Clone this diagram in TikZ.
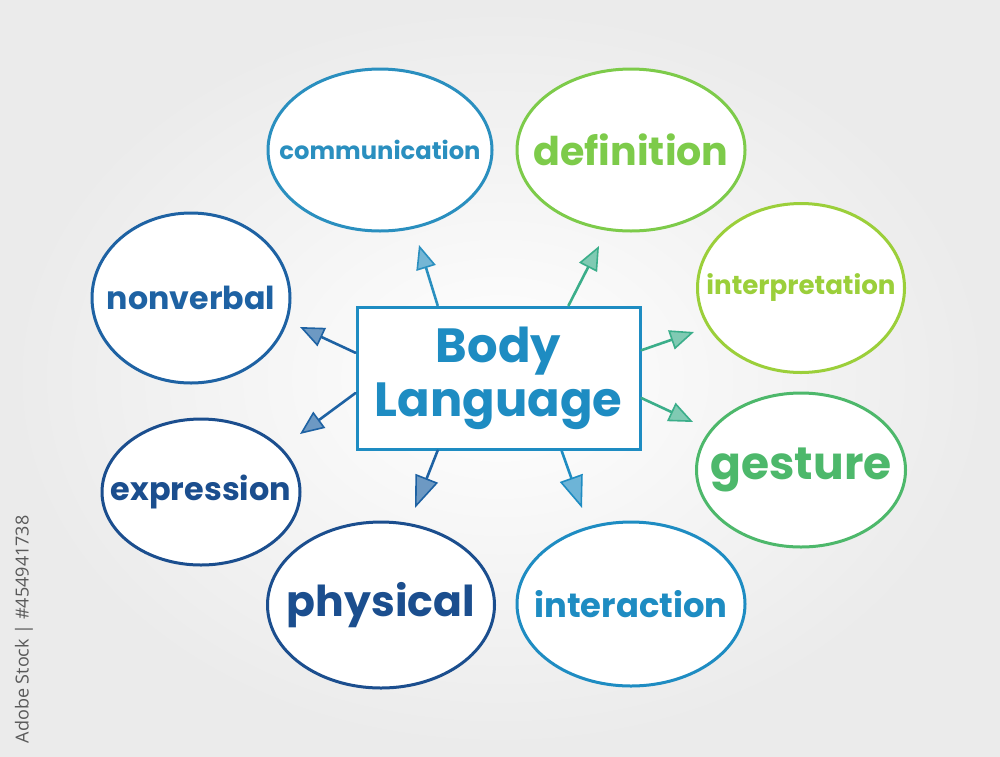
\documentclass[tikz,border=0pt]{standalone}
\usepackage{fontspec}
\setmainfont{Poppins}
\newfontfamily\stockfont{Open Sans}
\usepackage{tikz}
\usetikzlibrary{positioning,shapes.geometric,arrows.meta}
\definecolor{navy}{HTML}{1B4E8E}
\definecolor{deepblue}{HTML}{1E62A3}
\definecolor{midblue}{HTML}{1E8CC2}
\definecolor{tealblue}{HTML}{2A8FBF}
\definecolor{leaf}{HTML}{7DCB4A}
\definecolor{lime}{HTML}{9BCF3A}
\definecolor{grass}{HTML}{4DB86B}
\definecolor{seagreen}{HTML}{3BAE8A}
\newcommand{\lbl}[2]{\makebox[0pt]{\resizebox{#1}{!}{\bfseries #2}}}

\begin{document}
\begin{tikzpicture}[x=1pt,y=-1pt,
    bubble/.style={draw=#1,text=#1,fill=white,ellipse,line width=3pt,inner sep=0pt},
    arr/.style={draw=#1,line width=2.6pt,line cap=round,
      -{Triangle[length=24pt,width=20pt,fill=#1!65,line width=1.6pt]}},
    bigarr/.style={draw=#1,line width=2.6pt,line cap=round,
      -{Triangle[length=32pt,width=24pt,fill=#1!65,line width=1.6pt]}}]
  \useasboundingbox (0,0) rectangle (1000,756);
  \shade[inner color=white,outer color=black!8] (0,0) rectangle (1000,756);
  \node[text=black!65,rotate=90,anchor=east,font=\stockfont\fontsize{18}{22}\selectfont]
    (stock) at (24,512) {Adobe Stock | \#454941738};
  % centre
  \node[draw=midblue,text=midblue,fill=white,line width=3pt,minimum width=283pt,minimum height=142pt,
    inner sep=0pt,align=center,font=\fontsize{48}{54}\selectfont\bfseries] (body) at (498.5,378)
    {Body\\Language};
  % bubbles
  \node[bubble=tealblue,minimum width=224pt,minimum height=162pt] (comm) at (380,150)
    {\lbl{201pt}{communication}};
  \node[bubble=leaf,minimum width=228pt,minimum height=162pt] (defn) at (631,150)
    {\lbl{195pt}{definition}};
  \node[bubble=deepblue,minimum width=198pt,minimum height=170pt] (nonv) at (191,298)
    {\lbl{168pt}{nonverbal}};
  \node[bubble=lime,minimum width=207pt,minimum height=169pt] (interp) at (801,288)
    {\lbl{189pt}{interpretation}};
  \node[bubble=navy,minimum width=198pt,minimum height=146pt] (expr) at (201,492)
    {\lbl{180pt}{expression}};
  \node[bubble=grass,minimum width=209pt,minimum height=154pt] (gest) at (801,470)
    {\lbl{181pt}{gesture}};
  \node[bubble=navy,minimum width=227pt,minimum height=166pt] (phys) at (381,605)
    {\lbl{188pt}{physical}};
  \node[bubble=midblue,minimum width=228pt,minimum height=164pt] (inter) at (631,604)
    {\lbl{193pt}{interaction}};
  % arrow tips
  \coordinate (tcomm) at (419,245);
  \coordinate (tdefn) at (599,246);
  \coordinate (tnonv) at (300,327);
  \coordinate (texpr) at (300,434);
  \coordinate (tinterp) at (694,332);
  \coordinate (tgest) at (693,422);
  \coordinate (tphys) at (415,508);
  \coordinate (tinter) at (582,508);
  \draw[arr=tealblue] (body.130) -- (tcomm);
  \draw[arr=seagreen] (body.46) -- (tdefn);
  \draw[arr=deepblue] (body.170) -- (tnonv);
  \draw[arr=deepblue] (body.186) -- (texpr);
  \draw[arr=seagreen] (body.11) -- (tinterp);
  \draw[arr=seagreen] (body.352) -- (tgest);
  \draw[bigarr=deepblue] (body.230) -- (tphys);
  \draw[bigarr=midblue] (body.311) -- (tinter);
\end{tikzpicture}
\end{document}
